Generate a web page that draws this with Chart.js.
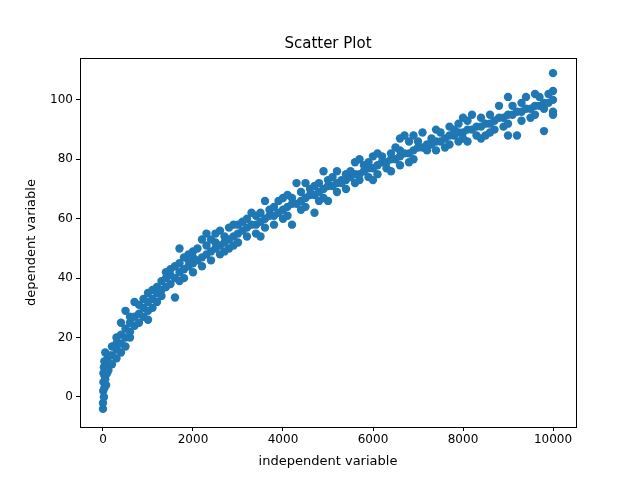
<!DOCTYPE html>
<html><head><meta charset="utf-8">
<script src="https://cdn.jsdelivr.net/npm/chart.js@4"></script>
<style>body{margin:0;background:#fff}#w{width:640px;height:478px}</style>
</head><body><div id="w"><canvas id="c"></canvas></div>
<script>
const groups = [
[0,[-4,-2]],[5,[2]],[10,[5,8]],[20,[0,10]],[30,[3,12]],[40,[7]],[50,[15,6]],[60,[9]],[70,[4]],[80,[11]],[90,[8]],[100,[13,10]],[120,[9]],[150,[14]],
[200,[14,17,11]],[300,[18,16,13,20]],[400,[21,18,15,25]],[500,[23,20,29,17]],[600,[25,22,27,20]],[700,[27,32,24]],[800,[28,25,31]],[900,[30,27,33]],[1000,[32,29,35,26]],
[1100,[33,30,36]],[1200,[35,32,37]],[1300,[36,34,39]],[1400,[42,37,40]],[1500,[38,41,43]],[1600,[40,44,33.5]],[1700,[42,45,50,39]],[1800,[43,47,40]],[1900,[44,48,46]],[2000,[45,49,47,42]],
[2100,[46,50]],[2200,[47,53,44]],[2300,[48,51,55]],[2400,[49,53,46]],[2500,[50,55,52]],[2600,[51,48,56]],[2700,[52,54,49]],[2800,[53,57,50]],[2900,[54,58,51]],[3000,[55,58,52]],
[3100,[56,59]],[3200,[57,54,60]],[3300,[58,62]],[3400,[58,61,55]],[3500,[59,62,54]],[3600,[60,66,57]],[3700,[61,63]],[3800,[61,64,58]],[3900,[62,66]],[4000,[63,67,60]],
[4100,[64,68,61]],[4200,[65,67,58]],[4300,[65,72]],[4400,[66,69,63]],[4500,[67,72,64]],[4600,[68,70]],[4700,[68,71,62]],[4800,[69,72,66]],[4900,[70,76,67]],[5000,[71,73,66]],
[5100,[71,74]],[5200,[72,76,69]],[5300,[73,72]],[5400,[73,75,70]],[5500,[74,76]],[5600,[75,79,72]],[5700,[75,80,73]],[5800,[76,78]],[5900,[77,79,74]],[6000,[77,81,73]],
[6100,[78,82,75]],[6200,[79,81]],[6300,[79,77]],[6400,[80,82,76]],[6500,[80,84]],[6600,[81,87,83,78]],[6700,[82,88]],[6800,[82,86,79]],[6900,[83,88,80]],[7000,[84,86]],
[7100,[84,89]],[7200,[85,83]],[7300,[85,87]],[7400,[86,90,83]],[7500,[86,89]],[7600,[87,84]],[7700,[88,91,85]],[7800,[88,90]],[7900,[89,92,86]],[8000,[89,94,87]],
[8100,[90,93,86]],[8200,[90,95]],[8300,[91,88]],[8400,[91,94,87]],[8500,[92,88]],[8600,[92,95,89]],[8700,[93,90]],[8800,[94,98]],[8900,[94,91]],[9000,[95,101,92,88]],
[9100,[95,98]],[9200,[96,88]],[9300,[96,99,93]],[9400,[97,101]],[9500,[97,94]],[9600,[98,102,95]],[9700,[98,101]],[9800,[99,89.5,97]],[9900,[99,102]],[10000,[100,109,96,95,103]]
];
const xTicks=[0,2000,4000,6000,8000,10000];
const yTicks=[0,20,40,60,80,100];
const pts=[];groups.forEach(([x,ys])=>ys.forEach(y=>pts.push({x,y})));
const font={family:'DejaVu Sans',size:13};
const frame={id:'frame',afterDraw(c){const a=c.chartArea,x=c.ctx;x.save();x.strokeStyle='#000';x.lineWidth=1;x.strokeRect(a.left+.5,a.top+.5,a.right-a.left,a.bottom-a.top);
x.fillStyle='#000';x.font='15px DejaVu Sans';x.textAlign='center';x.textBaseline='bottom';x.fillText('Scatter Plot',(a.left+a.right)/2,a.top-6);x.restore();}};
new Chart(document.getElementById('c'),{type:'scatter',
data:{datasets:[{data:pts,backgroundColor:'#1f77b4',borderWidth:0,pointRadius:4.2,pointHoverRadius:4.2}]},
options:{animation:false,responsive:true,maintainAspectRatio:false,layout:{padding:{top:58,right:64,left:20,bottom:5}},
plugins:{legend:{display:false},tooltip:{enabled:false}},
scales:{
x:{type:'linear',min:-511,max:10511,afterBuildTicks(s){s.ticks=xTicks.map(v=>({value:v}))},afterFit(s){s.height=46},
grid:{drawOnChartArea:false,color:'#000',tickLength:4},border:{display:false},
ticks:{color:'#000',font:{family:'DejaVu Sans',size:12},maxRotation:0,padding:2,callback:v=>String(v)},
title:{display:true,text:'independent variable',color:'#000',font,padding:{top:2}}},
y:{type:'linear',min:-10.1,max:114.1,afterBuildTicks(s){s.ticks=yTicks.map(v=>({value:v}))},afterFit(s){s.width=60},
grid:{drawOnChartArea:false,color:'#000',tickLength:4},border:{display:false},
ticks:{color:'#000',font:{family:'DejaVu Sans',size:12},padding:3,callback:v=>String(v)},
title:{display:true,text:'dependent variable',color:'#000',font,padding:{bottom:4}}}}},
plugins:[frame]});
</script></body></html>
